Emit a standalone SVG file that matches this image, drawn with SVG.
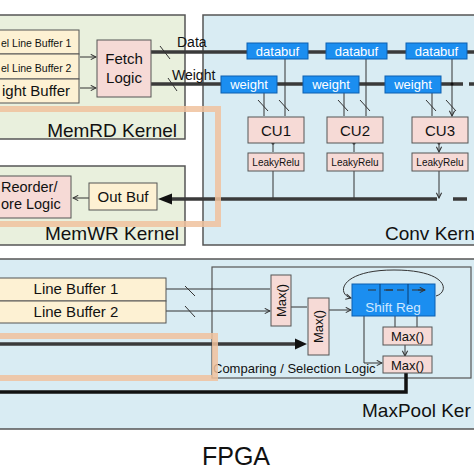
<svg xmlns="http://www.w3.org/2000/svg" width="474" height="474" viewBox="0 0 474 474">
<defs>
<style>
.kern{stroke:#555;stroke-width:1.5}
.green{fill:#e9f0dd}
.blue{fill:#d9ecf3}
.buf{fill:#fdf1d3;stroke:#555;stroke-width:1}
.pink{fill:#f6dad6;stroke:#555;stroke-width:1}
.reg{fill:#1b8ef0;stroke:#0d5fb0;stroke-width:1}
.t{font-family:"Liberation Sans",Arial,sans-serif;fill:#111}
.w{font-family:"Liberation Sans",Arial,sans-serif;fill:#fff}
.ln{fill:none;stroke:#333;stroke-width:1}
.thick{fill:none;stroke:#3a3a3a;stroke-width:3.5}
.hl{fill:none;stroke:#f0c29e;stroke-width:6;opacity:0.85}
</style>
<marker id="a" viewBox="0 0 8 8" refX="7" refY="4" markerWidth="7" markerHeight="7" orient="auto" markerUnits="userSpaceOnUse"><path d="M1,1 L7,4 L1,7" fill="none" stroke="#333" stroke-width="1.2"/></marker>
</defs>
<rect width="474" height="474" fill="#fff"/>

<g id="memrd-kernel">
<rect x="-2" y="15" width="187" height="124" class="kern green"/>
<text x="177" y="137" class="t" font-size="19" text-anchor="end">MemRD Kernel</text>
</g>
<g id="memwr-kernel">
<rect x="-2" y="166" width="187" height="79" class="kern green"/>
<text x="179" y="240" class="t" font-size="19" text-anchor="end">MemWR Kernel</text>
</g>
<g id="conv-kernel">
<rect x="203" y="15" width="280" height="230" class="kern blue"/>
<text x="385" y="240" class="t" font-size="19">Conv Kern</text>
</g>
<g id="maxpool-kernel">
<rect x="-2" y="259" width="480" height="170" class="kern blue"/>
<rect x="212" y="267" width="259" height="111" fill="none" stroke="#555" stroke-width="1.2"/>
<text x="362" y="417" class="t" font-size="19">MaxPool Ker</text>
<text x="213" y="373" class="t" font-size="13">Comparing / Selection Logic</text>
</g>

<g id="connectors">
<path d="M80 57 H96" class="ln" marker-end="url(#a)"/>
<path d="M80 88 H96" class="ln" marker-end="url(#a)"/>
<path d="M151 52 H480" class="thick"/>
<path d="M151 84 H463 M469 84 H476" class="thick" stroke-width="3"/>
<path d="M160 46 L170 59 M168 78 L177 91" class="ln"/>
<path d="M264 93 V116 M285 59 V116 M344 93 V116 M366 59 V116 M432 93 V116 M452 59 V116" class="ln" marker-end="url(#a)"/>
<path d="M258 100 L268 111 M279 100 L289 111 M338 100 L348 111 M360 100 L370 111 M426 100 L436 111 M446 100 L456 111" class="ln"/>
<circle cx="452" cy="84" r="1.5" fill="#111"/>
<path d="M273 143 V152 M354 143 V152 M439 143 V152" class="ln" marker-end="url(#a)"/>
<circle cx="273" cy="143" r="1.6" fill="#222"/>
<circle cx="354" cy="143" r="1.6" fill="#222"/>
<circle cx="439" cy="143" r="1.6" fill="#222"/>
<path d="M273 171 V198 M354 171 V198 M439 171 V198" class="ln" marker-end="url(#a)"/>
<path d="M437 199 H170 M453 199 H467" class="thick"/>
<polygon points="158,199 172,193.5 172,204.5" fill="#111"/>
<path d="M89 198 H73" class="ln" marker-end="url(#a)"/>
<path d="M133 294 H142 V309 H131" class="ln" marker-end="url(#a)"/>
<path d="M166 289 H270 M166 311 H270" class="ln" marker-end="url(#a)"/>
<path d="M185 286 L195 296 M185 306 L195 317" class="ln"/>
<path d="M-5 344 H297" class="thick" stroke-width="3"/>
<polygon points="307,344 295,338.5 295,349.5" fill="#111"/>
<path d="M291 307 H307 M329 310 H351" class="ln" marker-end="url(#a)"/>
<path d="M436 296 C450 292 448 270 394 270 C340 270 336 294 351 298" class="ln" marker-end="url(#a)"/>
<path d="M395 316 V327 M417 316 V327 M405 345 V356" class="ln" marker-end="url(#a)"/>
<path d="M364 316 V363 H382" class="ln" marker-end="url(#a)"/>
<path d="M406 373 V392 H-5" fill="none" stroke="#111" stroke-width="3.5"/>
</g>

<g id="channel-line-buffer-1"><rect x="-2" y="30" width="81" height="24" class="buf"/><text x="1" y="47" class="t" font-size="10.5">el Line Buffer 1</text></g>
<g id="channel-line-buffer-2"><rect x="-2" y="54" width="81" height="25" class="buf"/><text x="1" y="71.5" class="t" font-size="10.5">el Line Buffer 2</text></g>
<g id="weight-buffer"><rect x="-2" y="79" width="81" height="24" class="buf"/><text x="2" y="96" class="t" font-size="15">ight Buffer</text></g>
<g id="fetch-logic"><rect x="97" y="40" width="54" height="57" class="pink"/><text x="124" y="64" class="t" font-size="15" text-anchor="middle">Fetch</text><text x="124" y="83" class="t" font-size="15" text-anchor="middle">Logic</text></g>
<g id="labels"><text x="177" y="47" class="t" font-size="14">Data</text><text x="172" y="80" class="t" font-size="14">Weight</text></g>

<g id="databuf-1"><rect x="247" y="43" width="61" height="16" class="reg"/><text x="277.5" y="56" class="w" font-size="13" text-anchor="middle">databuf</text></g>
<g id="databuf-2"><rect x="326" y="43" width="61" height="16" class="reg"/><text x="356.5" y="56" class="w" font-size="13" text-anchor="middle">databuf</text></g>
<g id="databuf-3"><rect x="406" y="43" width="61" height="16" class="reg"/><text x="436.5" y="56" class="w" font-size="13" text-anchor="middle">databuf</text></g>
<g id="weight-1"><rect x="221" y="76" width="56" height="17" class="reg"/><text x="249" y="89" class="w" font-size="13" text-anchor="middle">weight</text></g>
<g id="weight-2"><rect x="303" y="76" width="56" height="17" class="reg"/><text x="331" y="89" class="w" font-size="13" text-anchor="middle">weight</text></g>
<g id="weight-3"><rect x="385" y="76" width="56" height="17" class="reg"/><text x="413" y="89" class="w" font-size="13" text-anchor="middle">weight</text></g>

<g id="cu1"><rect x="248" y="117" width="56" height="26" class="pink"/><text x="276" y="136" class="t" font-size="15" text-anchor="middle">CU1</text></g>
<g id="cu2"><rect x="327" y="117" width="56" height="26" class="pink"/><text x="355" y="136" class="t" font-size="15" text-anchor="middle">CU2</text></g>
<g id="cu3"><rect x="412" y="117" width="56" height="26" class="pink"/><text x="440" y="136" class="t" font-size="15" text-anchor="middle">CU3</text></g>
<g id="leakyrelu-1"><rect x="248" y="153" width="56" height="18" class="pink"/><text x="276" y="166" class="t" font-size="10" text-anchor="middle">LeakyRelu</text></g>
<g id="leakyrelu-2"><rect x="327" y="153" width="56" height="18" class="pink"/><text x="355" y="166" class="t" font-size="10" text-anchor="middle">LeakyRelu</text></g>
<g id="leakyrelu-3"><rect x="412" y="153" width="56" height="18" class="pink"/><text x="440" y="166" class="t" font-size="10" text-anchor="middle">LeakyRelu</text></g>

<g id="out-buf"><rect x="89" y="183" width="68" height="27" class="buf"/><text x="123" y="202" class="t" font-size="15" text-anchor="middle">Out Buf</text></g>
<g id="reorder-store-logic"><rect x="-2" y="176" width="73" height="42" class="pink"/><text x="1" y="192" class="t" font-size="14.5">Reorder/</text><text x="1" y="209" class="t" font-size="14.5">ore Logic</text></g>

<g id="line-buffer-1"><rect x="-2" y="278" width="168" height="23" class="buf"/><text x="76" y="294" class="t" font-size="15" text-anchor="middle">Line Buffer 1</text></g>
<g id="line-buffer-2"><rect x="-2" y="301" width="168" height="22" class="buf"/><text x="76" y="317" class="t" font-size="15" text-anchor="middle">Line Buffer 2</text></g>
<g id="max-1"><rect x="271" y="275" width="20" height="51" class="pink"/><text transform="translate(285.5,300.5) rotate(-90)" class="t" font-size="13" text-anchor="middle">Max()</text></g>
<g id="max-2"><rect x="308" y="298" width="21" height="57" class="pink"/><text transform="translate(323,326.5) rotate(-90)" class="t" font-size="13" text-anchor="middle">Max()</text></g>
<g id="shift-reg"><rect x="352" y="284" width="83" height="32" class="reg"/>
<path d="M380 284 V304 M408 284 V304" stroke="#0a3d70" stroke-width="1"/>
<path d="M368 290 H376 M384 290 H393 M397 290 H404 M412 290 H425" class="ln" stroke="#0a2a50"/>
<path d="M386 290 H393 M418 290 H425" class="ln" stroke="#0a2a50" marker-end="url(#a)"/>
<text x="393" y="312" font-family="Liberation Sans,Arial,sans-serif" font-size="13.5" fill="#cfe8ff" text-anchor="middle">Shift Reg</text></g>
<g id="max-3"><rect x="383" y="327" width="49" height="18" class="pink"/><text x="407.5" y="341" class="t" font-size="13" text-anchor="middle">Max()</text></g>
<g id="max-4"><rect x="383" y="356" width="49" height="17" class="pink"/><text x="407.5" y="369.5" class="t" font-size="13" text-anchor="middle">Max()</text></g>

<g id="highlight">
<path d="M-5 109 H218 V224 H-5" class="hl"/>
<path d="M-5 336 H215 V378 H-5" class="hl"/>
</g>

<g id="fpga"><text x="236" y="465" class="t" font-size="25" text-anchor="middle">FPGA</text></g>
</svg>
